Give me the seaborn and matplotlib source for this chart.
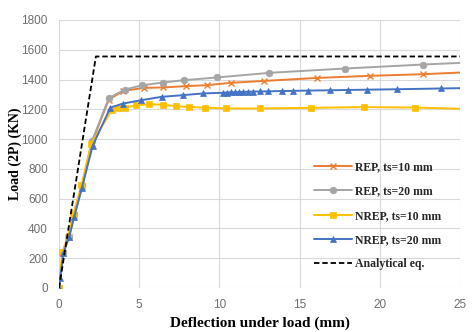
import matplotlib
matplotlib.use("Agg")
import matplotlib.pyplot as plt
from matplotlib.lines import Line2D
import seaborn as sns
import pandas as pd

# Load–deflection curves (deflection in mm, load 2P in kN)
rep10_x = [0, 0.25, 0.6, 0.95, 1.45, 2.05, 3.1, 4.0, 5.3, 6.5, 7.9, 9.2, 10.7, 12.8, 16.1, 19.4, 22.7, 25]
rep10_y = [0, 235, 340, 490, 685, 975, 1265, 1324, 1344, 1347, 1356, 1362, 1378, 1391, 1411, 1425, 1436, 1447]

rep20_x = [0, 0.25, 0.6, 0.95, 1.45, 2.05, 3.1, 4.1, 5.2, 6.5, 7.8, 9.85, 13.1, 17.8, 22.7, 25]
rep20_y = [0, 240, 345, 495, 690, 985, 1275, 1333, 1362, 1380, 1396, 1414, 1445, 1474, 1501, 1512]

nrep10_x = [0, 0.2, 0.55, 0.9, 1.4, 2.0, 3.3, 3.7, 4.1, 4.8, 5.6, 6.5, 7.3, 8.1, 9.1, 10.4, 12.5, 15.7, 19.0, 22.2, 25]
nrep10_y = [0, 240, 345, 500, 690, 970, 1194, 1206, 1212, 1226, 1235, 1230, 1221, 1215, 1212, 1206, 1206, 1210, 1215, 1212, 1204]

nrep20_x = [0, 0.08, 0.27, 0.64, 0.94, 1.42, 2.1, 3.2, 4.0, 5.1, 6.4, 7.7, 9.0, 10.2, 10.45, 10.7, 10.95,
            11.2, 11.5, 11.8, 12.1, 12.5, 13.0, 13.9, 14.6, 15.5, 16.9, 18.0, 19.2, 21.1, 23.8, 25]
nrep20_y = [0, 70, 233, 344, 474, 669, 955, 1212, 1239, 1261, 1284, 1295, 1307, 1311, 1313, 1314, 1315,
            1316, 1317, 1318, 1319, 1320, 1321, 1323, 1324, 1326, 1328, 1330, 1332, 1335, 1340, 1342]

analytic_x = [0, 2.3, 25]
analytic_y = [0, 1555, 1555]

labels = ["REP, ts=10 mm", "REP, ts=20 mm", "NREP, ts=10 mm", "NREP, ts=20 mm", "Analytical eq."]
x_ticks = [0, 5, 10, 15, 20, 25]
y_ticks = [0, 200, 400, 600, 800, 1000, 1200, 1400, 1600, 1800]

series = [
    (labels[0], rep10_x, rep10_y, "#ED7D31", "x", 5.0),
    (labels[1], rep20_x, rep20_y, "#A5A5A5", "o", 4.8),
    (labels[2], nrep10_x, nrep10_y, "#FFC000", "s", 4.2),
    (labels[3], nrep20_x, nrep20_y, "#4472C4", "^", 5.0),
]

sns.set_theme(style="white")
plt.rcParams["font.family"] = ["Liberation Sans", "DejaVu Sans"]

fig = plt.figure(figsize=(4.74, 3.32), dpi=100)
ax = fig.add_axes([59 / 474, 44 / 332, 401 / 474, 268 / 332])

handles = []
for name, xs, ys, col, mk, ms in series:
    df = pd.DataFrame({"x": xs, "y": ys})
    sns.lineplot(data=df, x="x", y="y", ax=ax, sort=False, color=col, lw=1.4,
                 marker=mk, markersize=ms, markeredgecolor=col, markeredgewidth=1.0 if mk == "x" else 0.5,
                 markevery=list(range(len(xs) - 1)), estimator=None, zorder=3)
    handles.append(Line2D([], [], color=col, lw=1.4, marker=mk, markersize=ms,
                          markeredgecolor=col, markeredgewidth=1.0 if mk == "x" else 0.5))

adf = pd.DataFrame({"x": analytic_x, "y": analytic_y})
sns.lineplot(data=adf, x="x", y="y", ax=ax, sort=False, color="black", lw=1.3,
             linestyle=(0, (3, 1.6)), estimator=None, zorder=4)
handles.append(Line2D([], [], color="black", lw=1.3, linestyle=(0, (3, 1.6))))

ax.set_xlim(0, 25)
ax.set_ylim(0, 1800)
ax.set_xticks(x_ticks)
ax.set_yticks(y_ticks)
ax.grid(True, color="#D9D9D9", lw=0.8)
for s in ax.spines.values():
    s.set_visible(False)
ax.tick_params(axis="both", length=0, labelsize=8.5, labelcolor="#6E6E6E")
ax.tick_params(axis="y", pad=8)
ax.tick_params(axis="x", pad=8)

ax.set_xlabel("Deflection under load (mm)", family="Liberation Serif", fontweight="bold",
              fontsize=11, color="black")
ax.set_ylabel("Load (2P) (KN)", family="Liberation Serif", fontweight="bold",
              fontsize=10, color="black")
ax.xaxis.set_label_coords(0.5, -0.105)
ax.yaxis.set_label_coords(-0.093, 0.5)

leg = ax.legend(handles, labels, loc="upper left", bbox_to_anchor=(308 / 474, 1 - 155 / 332),
                bbox_transform=fig.transFigure, frameon=False, handlelength=3.2, handletextpad=0.3,
                labelspacing=1.05, borderpad=0,
                prop={"family": "Liberation Serif", "weight": "bold", "size": 8.5})

fig.savefig("out.png", dpi=100)
